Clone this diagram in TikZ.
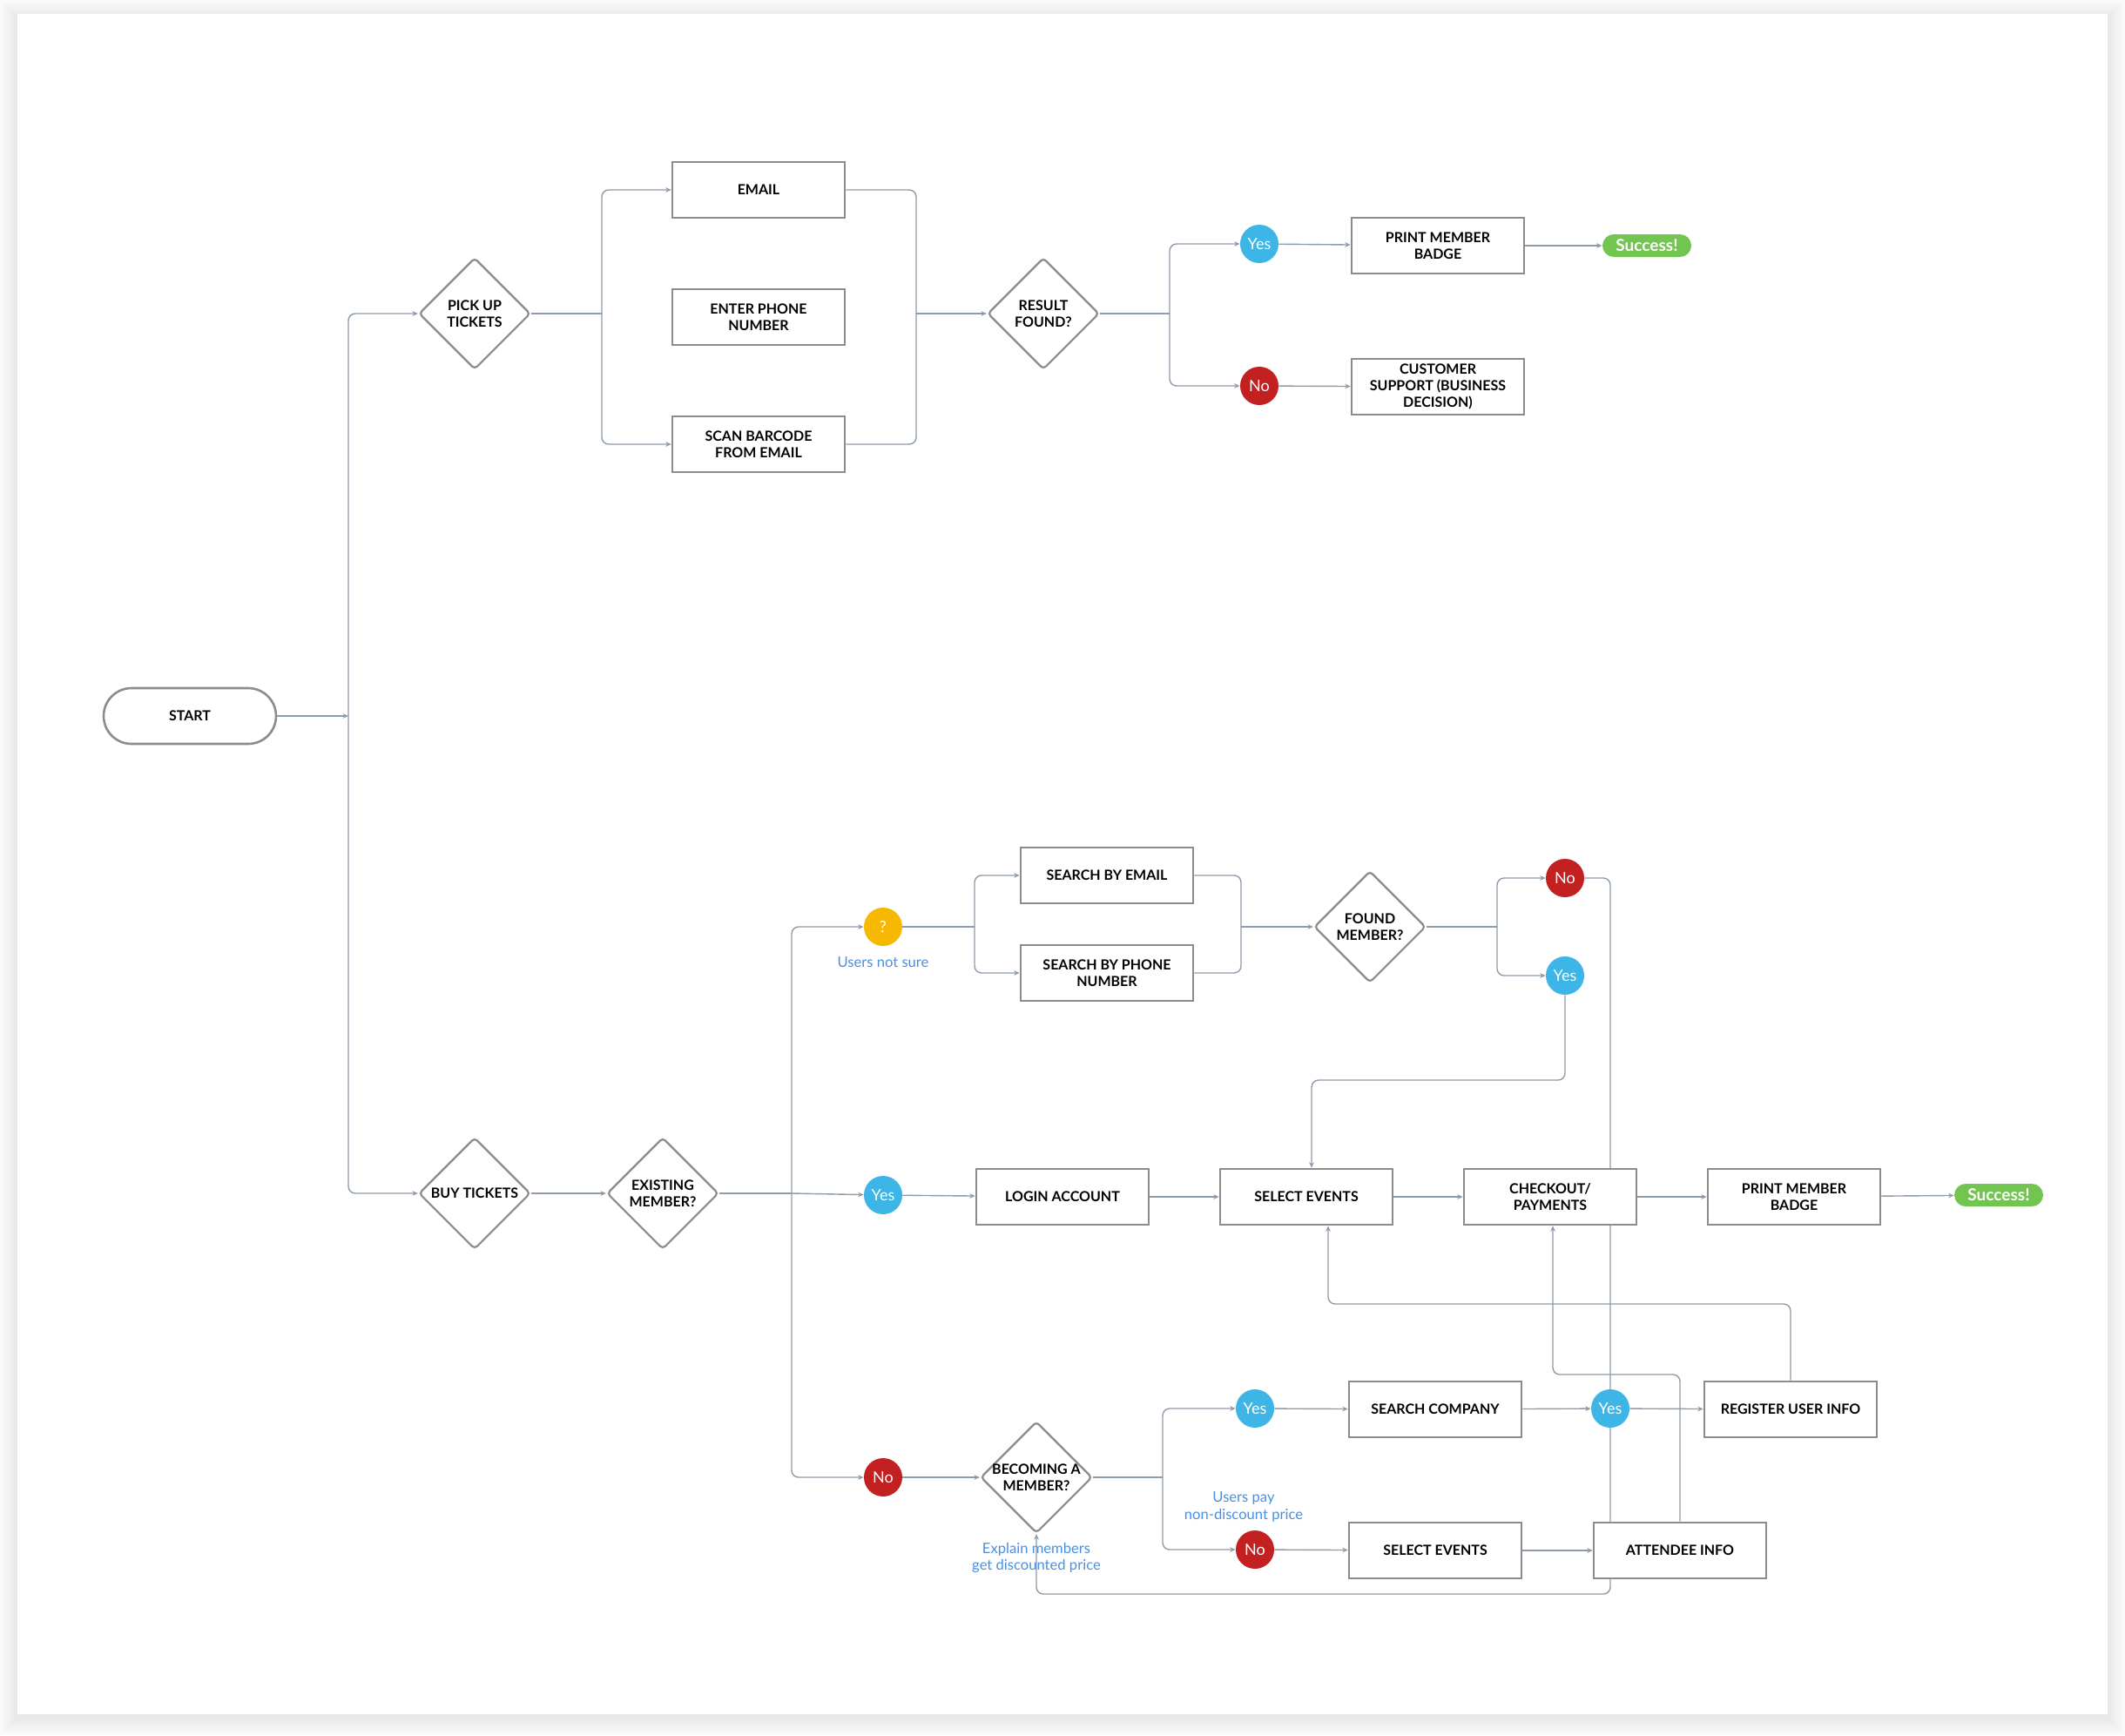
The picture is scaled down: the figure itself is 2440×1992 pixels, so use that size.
\documentclass[tikz,border=0pt]{standalone}
\usepackage{fontspec}
\setmainfont{Lato}
\usetikzlibrary{arrows.meta, positioning, shapes.geometric, backgrounds, calc}

\definecolor{linegray}{HTML}{8E9BAA}
\definecolor{boxgray}{HTML}{8C8C8C}
\definecolor{yesblue}{HTML}{3DB5E6}
\definecolor{nored}{HTML}{C22021}
\definecolor{askamber}{HTML}{F6B800}
\definecolor{okgreen}{HTML}{72C551}
\definecolor{noteblue}{HTML}{4A90E2}

\begin{document}
\begin{tikzpicture}[
    x=0.5pt, y=-0.5pt,
    every node/.style={font=\fontsize{8}{9.6}\selectfont},
    block/.style={rectangle, draw=boxgray, fill=white, line width=1.3pt,
                  minimum width=99pt, minimum height=32pt, inner sep=2pt, align=center,
                  font=\fontsize{8}{9.6}\selectfont\bfseries},
    startstop/.style={block, rounded corners=16pt},
    decision/.style={diamond, draw=boxgray, fill=white, line width=1.1pt,
                  minimum width=64pt, minimum height=64pt, inner sep=0pt, rounded corners=2pt,
                  label={[dtext]center:#1}},
    dtext/.style={align=center, font=\fontsize{8}{9.6}\selectfont\bfseries},
    dot/.style={circle, minimum size=22pt, inner sep=0pt, text=white,
                  font=\fontsize{9}{10}\selectfont},
    yesdot/.style={dot, fill=yesblue},
    nodot/.style={dot, fill=nored},
    askdot/.style={dot, fill=askamber},
    success/.style={rectangle, rounded corners=6.5pt, fill=okgreen, minimum width=51pt,
                  minimum height=13pt, inner sep=0pt, text=white,
                  font=\fontsize{9.5}{10}\selectfont\bfseries},
    note/.style={text=noteblue, align=center, font=\fontsize{8.3}{9.6}\selectfont},
    conn/.style={draw=linegray, line width=0.7pt, rounded corners=4pt},
    arr/.style={conn, -{Stealth[length=3.2pt, width=2.8pt]}},
]
\useasboundingbox (0,0) rectangle (2440,1992);

% pick up branch
\node[startstop] (start) at (218,822) {START};
\node[decision={PICK UP\\TICKETS}] (pick) at (545,360) {};
\node[block] (email) at (871,218) {EMAIL};
\node[block] (phone) at (871,364) {ENTER PHONE\\NUMBER};
\node[block] (scan) at (871,510) {SCAN BARCODE\\FROM EMAIL};
\node[decision={RESULT\\FOUND?}] (result) at (1198,360) {};
\node[yesdot] (yesfound) at (1446,280) {Yes};
\node[nodot] (nofound) at (1446,443) {No};
\node[block] (badgetop) at (1651,282) {PRINT MEMBER\\BADGE};
\node[block] (support) at (1651,444) {CUSTOMER\\SUPPORT (BUSINESS\\DECISION)};
\node[success] (donetop) at (1891,282) {Success!};

% buy branch
\node[decision={BUY TICKETS}] (buy) at (545,1370) {};
\node[decision={EXISTING\\MEMBER?}] (existing) at (761,1370) {};
\node[askdot] (unsure) at (1014,1064) {?};
\node[note] (unsurenote) at (1014,1105) {Users not sure};
\node[block] (byemail) at (1271,1005) {SEARCH BY EMAIL};
\node[block] (byphone) at (1271,1117) {SEARCH BY PHONE\\NUMBER};
\node[decision={FOUND\\MEMBER?}] (found) at (1573,1064) {};
\node[nodot] (nomember) at (1797,1008) {No};
\node[yesdot] (yesmember) at (1797,1120) {Yes};

\node[yesdot] (yesexisting) at (1014,1372) {Yes};
\node[block] (login) at (1220,1374) {LOGIN ACCOUNT};
\node[block] (events) at (1500,1374) {SELECT EVENTS};
\node[block] (checkout) at (1780,1374) {CHECKOUT/\\PAYMENTS};
\node[block] (badgebot) at (2060,1374) {PRINT MEMBER\\BADGE};
\node[success] (donebot) at (2295,1372) {Success!};

\node[nodot] (noexisting) at (1014,1696) {No};
\node[decision={BECOMING A\\MEMBER?}] (becoming) at (1190,1696) {};
\node[yesdot] (yesbecome) at (1441,1617) {Yes};
\node[nodot] (nobecome) at (1441,1779) {No};
\node[block] (company) at (1648,1618) {SEARCH COMPANY};
\node[yesdot] (yescompany) at (1849,1617) {Yes};
\node[block] (register) at (2056,1618) {REGISTER USER INFO};
\node[block] (events2) at (1648,1780) {SELECT EVENTS};
\node[block] (attendee) at (1929,1780) {ATTENDEE INFO};
\node[note] (paynote) at (1428,1730) {Users pay\\non-discount price};
\node[note] (explainnote) at (1190,1788) {Explain members\\get discounted price};

% bends
\coordinate (trunk) at (400,822);
\coordinate (pickfork) at (691,360);
\coordinate (pickjoin) at (1052,360);
\coordinate (resultfork) at (1343,360);
\coordinate (existfork) at (909,1370);
\coordinate (unsurefork) at (1119,1064);
\coordinate (searchjoin) at (1425,1064);
\coordinate (foundfork) at (1719,1064);
\coordinate (becomefork) at (1335,1696);
\coordinate (yesturn) at (1797,1240);
\coordinate (noturn) at (1849,1830);
\coordinate (regturn) at (2056,1497);
\coordinate (attturn) at (1929,1578);

\begin{scope}[on background layer]
    % page frame
    \fill[black!2] (0,0) rectangle (2440,1992);
    \foreach \s in {2,4,...,18}
        \fill[black, opacity=0.007] (20-\s,16-\s+4) rectangle (2420+\s,1968+\s+4);
    \fill[white] (20,16) rectangle (2420,1968);

    \draw[arr] (start) -- (trunk);
    \draw[arr] (trunk) |- (pick);
    \draw[arr] (trunk) |- (buy);
    \draw[conn] (pick) -- (pickfork);
    \draw[arr] (pickfork) |- (email);
    \draw[arr] (pickfork) |- (scan);
    \draw[conn] (email) -| (pickjoin);
    \draw[conn] (scan) -| (pickjoin);
    \draw[arr] (pickjoin) -- (result);
    \draw[conn] (result) -- (resultfork);
    \draw[arr] (resultfork) |- (yesfound);
    \draw[arr] (resultfork) |- (nofound);
    \draw[arr] (yesfound) -- (badgetop);
    \draw[arr] (nofound) -- (support);
    \draw[arr] (badgetop) -- (donetop);

    \draw[arr] (buy) -- (existing);
    \draw[conn] (existing) -- (existfork);
    \draw[arr] (existfork) -- (yesexisting);
    \draw[arr] (existfork) |- (unsure);
    \draw[arr] (existfork) |- (noexisting);
    \draw[conn] (unsure) -- (unsurefork);
    \draw[arr] (unsurefork) |- (byemail);
    \draw[arr] (unsurefork) |- (byphone);
    \draw[conn] (byemail) -| (searchjoin);
    \draw[conn] (byphone) -| (searchjoin);
    \draw[arr] (searchjoin) -- (found);
    \draw[conn] (found) -- (foundfork);
    \draw[arr] (foundfork) |- (nomember);
    \draw[arr] (foundfork) |- (yesmember);
    \draw[arr] (yesmember) -- (yesturn) -| ([xshift=3pt]events.north);
    \draw[arr] (nomember) -| (noturn) -| (becoming);

    \draw[arr] (yesexisting) -- (login);
    \draw[arr] (login) -- (events);
    \draw[arr] (events) -- (checkout);
    \draw[arr] (checkout) -- (badgebot);
    \draw[arr] (badgebot) -- (donebot);

    \draw[arr] (noexisting) -- (becoming);
    \draw[conn] (becoming) -- (becomefork);
    \draw[arr] (becomefork) |- (yesbecome);
    \draw[arr] (becomefork) |- (nobecome);
    \draw[arr] (yesbecome) -- (company);
    \draw[arr] (company) -- (yescompany);
    \draw[arr] (yescompany) -- (register);
    \draw[arr] (nobecome) -- (events2);
    \draw[arr] (events2) -- (attendee);
    \draw[arr] (register) -- (regturn) -| ([xshift=12.5pt]events.south);
    \draw[arr] (attendee) -- (attturn) -| ([xshift=1.5pt]checkout.south);
\end{scope}

\end{tikzpicture}
\end{document}
